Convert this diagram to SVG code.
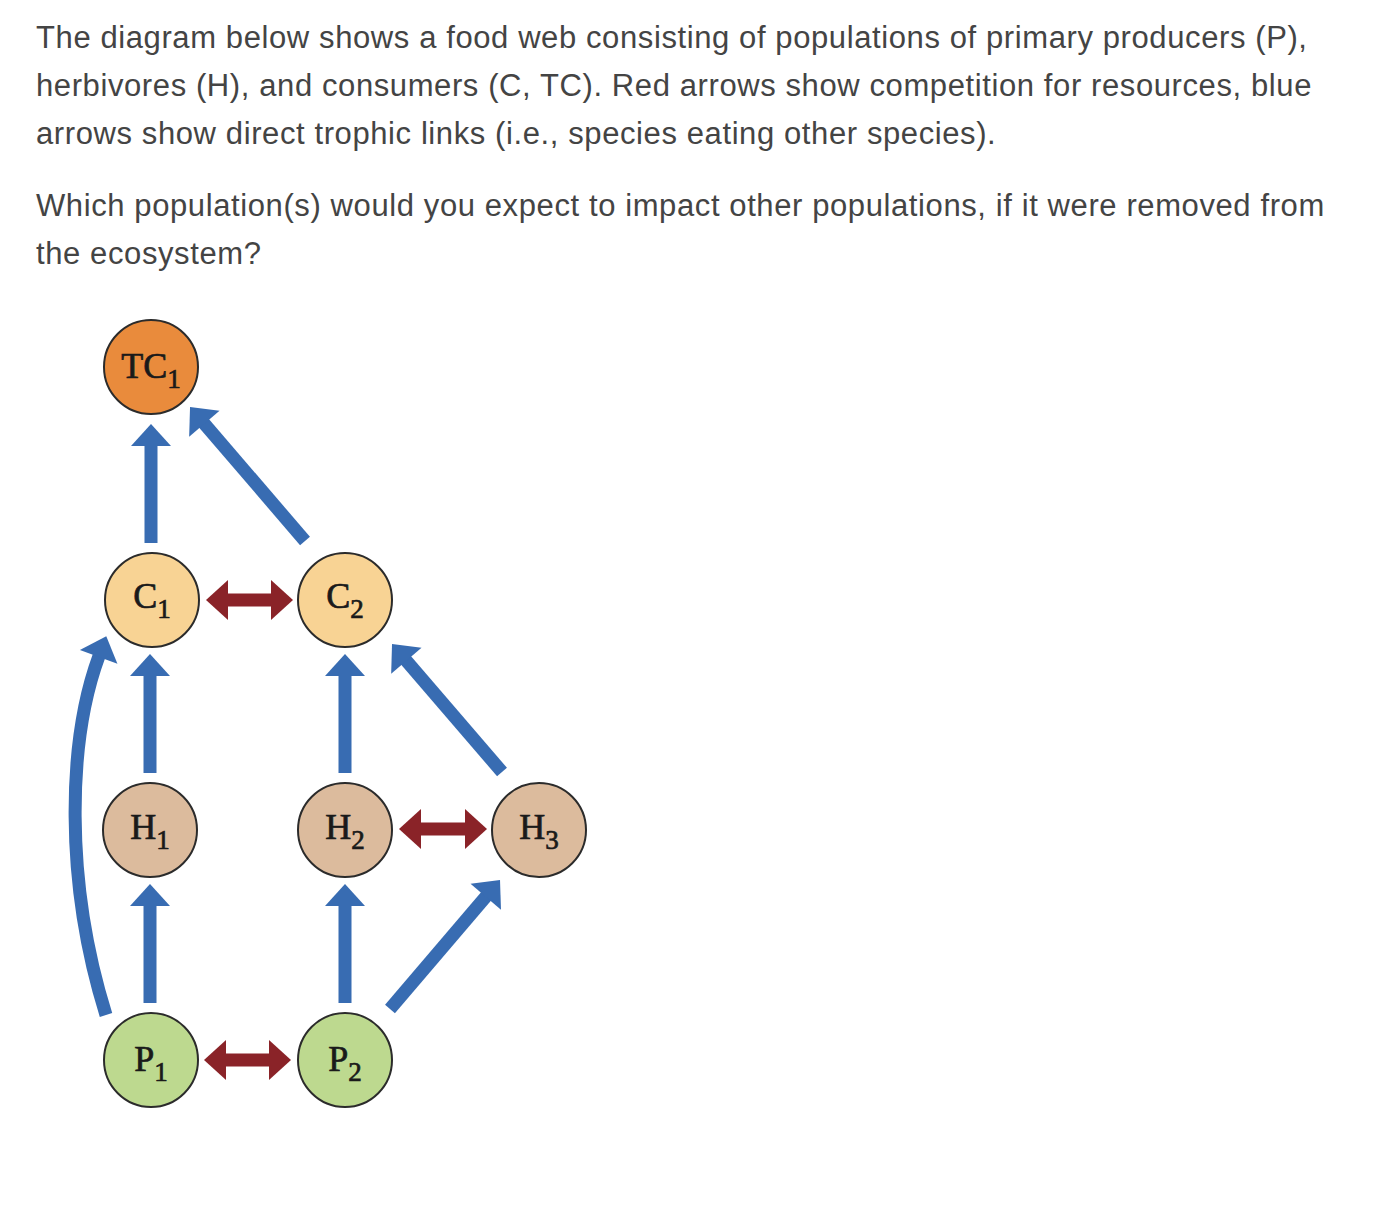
<svg xmlns="http://www.w3.org/2000/svg" width="1390" height="1206" viewBox="0 0 1390 1206">
<style>
.q{font-family:"Liberation Sans",Arial,sans-serif;font-size:31px;letter-spacing:0.6px;fill:#444}
.n{stroke:#2b2b2b;stroke-width:2}
.lbl{font-family:"Liberation Serif","Times New Roman",serif;font-size:36px;fill:#1a1a1a;stroke:#1a1a1a;stroke-width:0.7;text-anchor:middle}
.sub{font-size:27px}
.b{stroke:#386cb2;stroke-width:13;fill:none}
.r{stroke:#8a2328;stroke-width:13;fill:none}
</style>
<defs>
<marker id="bh" markerUnits="userSpaceOnUse" markerWidth="24" markerHeight="42" refX="1" refY="20" orient="auto" overflow="visible"><path d="M0,0 L22,20 L0,40 z" fill="#386cb2"/></marker>
<marker id="rh" markerUnits="userSpaceOnUse" markerWidth="24" markerHeight="42" refX="1" refY="20" orient="auto-start-reverse" overflow="visible"><path d="M0,0 L22,20 L0,40 z" fill="#8a2328"/></marker>
</defs>
<rect width="1390" height="1206" fill="#fff"/>
<g id="question">
<text class="q" x="36" y="48">The diagram below shows a food web consisting of populations of primary producers (P),</text>
<text class="q" x="36" y="96">herbivores (H), and consumers (C, TC). Red arrows show competition for resources, blue</text>
<text class="q" x="36" y="144">arrows show direct trophic links (i.e., species eating other species).</text>
<text class="q" x="36" y="216">Which population(s) would you expect to impact other populations, if it were removed from</text>
<text class="q" x="36" y="264">the ecosystem?</text>
</g>
<g id="connectors">
<path class="b" d="M151,543 L151,445" marker-end="url(#bh)"/>
<path class="b" d="M305,541 L203.7,422.9" marker-end="url(#bh)"/>
<path class="b" d="M150,773 L150,675" marker-end="url(#bh)"/>
<path class="b" d="M150,1003 L150,905" marker-end="url(#bh)"/>
<path class="b" d="M345,773 L345,675" marker-end="url(#bh)"/>
<path class="b" d="M345,1003 L345,905" marker-end="url(#bh)"/>
<path class="b" d="M502,772 L405.7,659.9" marker-end="url(#bh)"/>
<path class="b" d="M390,1009 L486.4,896" marker-end="url(#bh)"/>
<path class="b" d="M106,1015 C64,880 68,740 99,656" marker-end="url(#bh)"/>
<path class="r" d="M227,600 L272,600" marker-start="url(#rh)" marker-end="url(#rh)"/>
<path class="r" d="M420,829 L466,829" marker-start="url(#rh)" marker-end="url(#rh)"/>
<path class="r" d="M225,1060 L270,1060" marker-start="url(#rh)" marker-end="url(#rh)"/>
</g>
<g id="TC1"><circle class="n" cx="151" cy="367" r="47" fill="#e98b3c"/><text class="lbl" x="151" y="378">TC<tspan class="sub" dy="10">1</tspan></text></g>
<g id="C1"><circle class="n" cx="152" cy="600" r="47" fill="#f8d394"/><text class="lbl" x="152" y="608">C<tspan class="sub" dy="10">1</tspan></text></g>
<g id="C2"><circle class="n" cx="345" cy="600" r="47" fill="#f8d394"/><text class="lbl" x="345" y="608">C<tspan class="sub" dy="10">2</tspan></text></g>
<g id="H1"><circle class="n" cx="150" cy="830" r="47" fill="#dcbb9d"/><text class="lbl" x="150" y="839">H<tspan class="sub" dy="10">1</tspan></text></g>
<g id="H2"><circle class="n" cx="345" cy="830" r="47" fill="#dcbb9d"/><text class="lbl" x="345" y="839">H<tspan class="sub" dy="10">2</tspan></text></g>
<g id="H3"><circle class="n" cx="539" cy="830" r="47" fill="#dcbb9d"/><text class="lbl" x="539" y="839">H<tspan class="sub" dy="10">3</tspan></text></g>
<g id="P1"><circle class="n" cx="151" cy="1060" r="47" fill="#bdd98f"/><text class="lbl" x="151" y="1071">P<tspan class="sub" dy="10">1</tspan></text></g>
<g id="P2"><circle class="n" cx="345" cy="1060" r="47" fill="#bdd98f"/><text class="lbl" x="345" y="1071">P<tspan class="sub" dy="10">2</tspan></text></g>
</svg>
